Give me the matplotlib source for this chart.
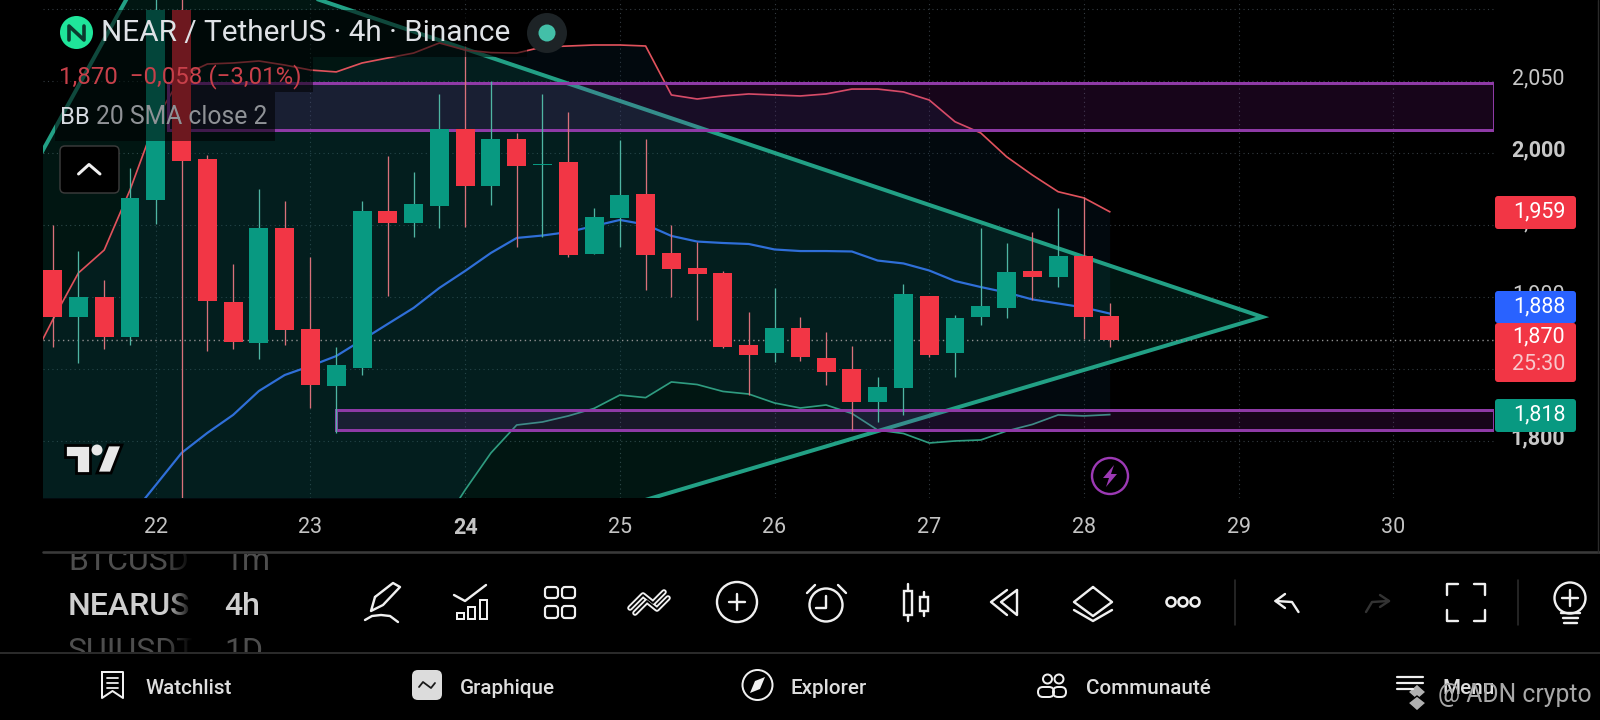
#!/usr/bin/env python3
"""NEAR / TetherUS 4h chart, phone screenshot with symmetric triangle"""

import numpy as np
import matplotlib
matplotlib.use('Agg')
import matplotlib.pyplot as plt
from matplotlib.patches import Circle, FancyBboxPatch, Polygon, Rectangle

plt.rcParams['font.family'] = ['Roboto', 'DejaVu Sans']

# candles, 4h each, first one at day 21 08:00
first_day = 21 + 1 / 3
opens = [1.9188, 1.8863, 1.9002, 1.8724, 1.9674, 2.0993, 1.9958, 1.8968, 1.8683, 1.9477,
         1.8778, 1.8382, 1.8509, 1.9600, 1.9516, 1.9634, 2.0164, 1.9773, 2.0095, 1.9920,
         1.9938, 1.9299, 1.9547, 1.9715, 1.9308, 1.9204, 1.9169, 1.8667, 1.8613, 1.8783,
         1.8574, 1.8498, 1.8273, 1.8366, 1.9007, 1.8613, 1.8863, 1.8926, 1.9181, 1.9141,
         1.9285, 1.8868]
closes = [1.8863, 1.9002, 1.8724, 1.9688, 2.0993, 1.9944, 1.8975, 1.8690, 1.9477, 1.8771,
          1.8389, 1.8528, 1.9597, 1.9516, 1.9644, 2.0164, 1.9773, 2.0095, 1.9912, 1.9925,
          1.9292, 1.9558, 1.9708, 1.9292, 1.9194, 1.9160, 1.8651, 1.8597, 1.8783, 1.8586,
          1.8481, 1.8273, 1.8373, 1.9019, 1.8597, 1.8852, 1.8938, 1.9176, 1.9139, 1.9285,
          1.8863, 1.8700]
highs = [1.9500, 1.9322, 1.9118, 1.9896, 2.1400, 2.1400, 1.9986, 1.9229, 1.9750, 1.9667,
         1.9280, 1.8653, 1.9667, 1.9979, 1.9870, 2.0410, 2.0743, 2.0500, 2.0141, 2.0410,
         2.0287, 1.9618, 2.0090, 2.0097, 1.9500, 1.9384, 1.9181, 1.8898, 1.9063, 1.8861,
         1.8759, 1.8660, 1.8447, 1.9090, 1.9007, 1.8875, 1.9481, 1.9375, 1.9451, 1.9618,
         1.9697, 1.8960]
lows = [1.8655, 1.8540, 1.8639, 1.8667, 1.9507, 1.7500, 1.8625, 1.8637, 1.8569, 1.8667,
        1.8227, 1.8058, 1.8458, 1.9007, 1.9419, 1.9479, 1.9488, 1.9639, 1.9349, 1.9419,
        1.9280, 1.9299, 1.9349, 1.9049, 1.9002, 1.8840, 1.8646, 1.8319, 1.8551, 1.8558,
        1.8389, 1.8076, 1.8134, 1.8181, 1.8581, 1.8447, 1.8806, 1.8854, 1.8979, 1.9069,
        1.8708, 1.8655]

# Bollinger bands, one point more than the candles because the lines enter from the left edge
# nan where the line is below the visible range
bb_upper = [1.8490, 1.8840, 1.9167, 1.9326, 1.9743, 2.0229, 2.0535, 2.0618, 2.0625, 2.0639, 2.0611,
            2.0576, 2.0563, 2.0625, 2.0660, 2.0694, 2.0764, 2.0715, 2.0697, 2.0694, 2.0736,
            2.0743, 2.0750, 2.0750, 2.0743, 2.0403, 2.0375, 2.0396, 2.0410, 2.0403, 2.0396,
            2.0410, 2.0444, 2.0444, 2.0424, 2.0368, 2.0217, 2.0139, 1.9974, 1.9847, 1.9731,
            1.9688, 1.9592]
bb_basis = [np.nan, np.nan, np.nan, np.nan, 1.7472, 1.7694, 1.7917, 1.8056, 1.8181, 1.8347, 1.8458,
            1.8521, 1.8590, 1.8701, 1.8813, 1.8924, 1.9063, 1.9181, 1.9306, 1.9410, 1.9427,
            1.9451, 1.9493, 1.9535, 1.9503, 1.9424, 1.9385, 1.9375, 1.9368, 1.9330, 1.9319,
            1.9319, 1.9316, 1.9253, 1.9233, 1.9184, 1.9111, 1.9069, 1.9031, 1.8983, 1.8955,
            1.8927, 1.8885]
bb_lower = [np.nan, np.nan, np.nan, np.nan, np.nan, np.nan, np.nan, np.nan, np.nan, np.nan, np.nan,
            np.nan, np.nan, np.nan, np.nan, np.nan, 1.7382, 1.7660, 1.7917, 1.8111, 1.8132,
            1.8174, 1.8226, 1.8319, 1.8301, 1.8410, 1.8392, 1.8344, 1.8326, 1.8264, 1.8229,
            1.8250, 1.8191, 1.8076, 1.8052, 1.7986, 1.8000, 1.8007, 1.8069, 1.8115, 1.8181,
            1.8174, 1.8183]

# drawings on the chart
triangle_days = [22.004, 29.155, 19.01]
triangle_prices = [2.1444, 1.8861, 1.5630]
zone_top = (22.08, 2.0160, 2.0485)
zone_bottom = (23.167, 1.8076, 1.8215)
zone_end = 30.651

day_ticks = [22, 23, 24, 25, 26, 27, 28, 29, 30]
price_grid = [1.80, 1.85, 1.90, 1.95, 2.00, 2.05, 2.10]
price_labels = {2.05: ('2,050', 'normal'), 2.00: ('2,000', 'bold'), 1.95: ('1,950', 'normal'),
                1.90: ('1,900', 'normal'), 1.80: ('1,800', 'bold')}
last_price = 1.870

UP = '#089981'
DOWN = '#f23645'
TEAL_LINE = '#22a085'
PURPLE = '#8e3aa6'
ICON = '#f0f0f0'

px = 0.72  # one pixel in points at dpi 100


def draw_chart(fig):
    ax = fig.add_axes([43 / 1600, 1 - 498 / 720, 1451 / 1600, 498 / 720], facecolor='black')
    ax.set_xlim(21.271, 30.651)
    ax.set_ylim(1.7604, 2.10625)
    for s in ax.spines.values():
        s.set_visible(False)

    ax.set_xticks(day_ticks)
    ax.set_xticklabels([str(d) for d in day_ticks], fontsize=15.5, color='#c4c4c4')
    ax.get_xticklabels()[2].set_fontweight('bold')
    ax.set_yticks(price_grid)
    ax.tick_params(length=0, labelleft=False, pad=13.5)
    ax.grid(True, color='#343b41', lw=0.8, ls=(0, (1, 3)))
    ax.set_axisbelow(True)

    days = first_day + np.arange(len(opens)) / 6
    bb_days = first_day + np.arange(-1, len(opens)) / 6

    # band fill goes only where both lines exist, below that it runs to the pane bottom
    low_fill = np.nan_to_num(np.array(bb_lower), nan=1.70)
    ax.fill_between(bb_days, low_fill, bb_upper, color='#0a2a40', alpha=0.22, lw=0, zorder=1)
    ax.add_patch(Polygon(np.column_stack([triangle_days, triangle_prices]), closed=True,
                         facecolor='#0c9a7c', alpha=0.15, lw=0, zorder=1.2))
    ax.add_patch(Polygon(np.column_stack([triangle_days, triangle_prices]), closed=True,
                         fill=False, edgecolor=TEAL_LINE, lw=4 * px, zorder=1.4))

    ax.plot(bb_days, bb_upper, color='#e0525c', lw=1.7 * px, zorder=2)
    ax.plot(bb_days, bb_basis, color='#2f6fd8', lw=2.2 * px, zorder=2)
    ax.plot(bb_days, bb_lower, color='#2f9c80', lw=1.7 * px, zorder=2)

    for start, low, high in (zone_top, zone_bottom):
        ax.add_patch(Rectangle((start, low), zone_end - start, high - low,
                               facecolor='#9c27b0', alpha=0.15, lw=0, zorder=2.2))
        ax.add_patch(Rectangle((start, low), zone_end - start, high - low,
                               fill=False, edgecolor=PURPLE, lw=3 * px, zorder=2.3))

    ax.axhline(last_price, color='#909090', lw=1.0, ls=(0, (1, 2.5)), zorder=2.4)

    o, c, h, l = map(np.array, (opens, closes, highs, lows))
    colors = [UP if b >= a else DOWN for a, b in zip(o, c)]
    wicks = ['#4fb5a3' if col == UP else '#d9717a' for col in colors]
    ax.vlines(days, l, h, colors=wicks, lw=1.3 * px, zorder=3)
    ax.bar(days, np.abs(c - o), bottom=np.minimum(o, c), width=19 / 155, color=colors,
           lw=0, zorder=3.1)

    # price scale text sits a little above its grid line
    for price, (label, weight) in price_labels.items():
        ax.annotate(label, xy=(1, price), xycoords=('axes fraction', 'data'),
                    xytext=(44 * px, 2.5 * px), textcoords='offset points', ha='center',
                    va='center', fontsize=15.5, color='#c8c8c8', fontweight=weight,
                    annotation_clip=False)


def line(ui, pts, color=ICON, lw=2.4, closed=False):
    pts = list(pts)
    if closed:
        pts.append(pts[0])
    xs, ys = zip(*pts)
    ui.plot(xs, ys, color=color, lw=lw * px, solid_capstyle='round', solid_joinstyle='round')


def circle(ui, x, y, r, color=ICON, lw=2.4, fill=False):
    ui.add_patch(Circle((x, y), r, fill=fill, facecolor=color, edgecolor=color, lw=lw * px))


def rbox(ui, x0, y0, x1, y1, rad=3, edge=ICON, face='none', lw=2.4):
    ui.add_patch(FancyBboxPatch((x0, y0), x1 - x0, y1 - y0,
                                boxstyle=f'round,pad=0,rounding_size={rad}',
                                facecolor=face, edgecolor=edge, lw=lw * px))


def draw_header(ui):
    for x0, y0, x1, y1 in [(55, 10, 527, 57), (55, 57, 313, 92), (55, 92, 275, 141)]:
        ui.add_patch(Rectangle((x0, y0), x1 - x0, y1 - y0, facecolor='black', alpha=0.55, lw=0))

    circle(ui, 76.5, 32.5, 16.5, color='#1fe59a', lw=0, fill=True)
    line(ui, [(69, 40), (69, 26), (84, 40), (84, 26)], color='#0b3a2e', lw=3.6)
    ui.text(101, 41, 'NEAR / TetherUS · 4h · Binance', fontsize=21.4, color='#dfe2e6', va='baseline')
    circle(ui, 547, 33, 20, color='#1d2326', lw=0, fill=True)
    circle(ui, 547, 33, 8.5, color='#43bfa8', lw=0, fill=True)

    ui.text(59, 83, '1,870  −0,058 (−3,01%)', fontsize=17.3, color='#c8404a', va='baseline')
    ui.text(60, 124, 'BB', fontsize=17, color='#d6dae0', va='baseline')
    ui.text(96, 124, '20 SMA close 2', fontsize=17.8, color='#8f9296', va='baseline')

    rbox(ui, 60, 146, 119, 193, rad=5, edge='#3a3a3a', face='black', lw=1.5)
    line(ui, [(78.5, 174), (89, 164.5), (100, 174)], lw=3)

    # TradingView mark with its dark shadow
    tv_t = [(65, 445), (90, 445), (90, 473), (76, 473), (76, 457), (65, 457)]
    tv_s = [(108, 445), (122, 445), (111, 473), (97, 473)]
    ui.add_patch(Polygon(tv_t, closed=True, facecolor='#e8e8e8', edgecolor='black', lw=2))
    ui.add_patch(Polygon(tv_s, closed=True, facecolor='#e8e8e8', edgecolor='black', lw=2))
    circle(ui, 97, 450, 5.5, color='#e8e8e8', lw=0, fill=True)

    # replay lightning button under the last candle
    circle(ui, 1110, 476, 18, color='#9c39b4', lw=2.4)
    ui.add_patch(Polygon([(1114, 465), (1103, 478), (1109, 478), (1106, 487), (1117, 474), (1111, 474)],
                         closed=True, facecolor='#9c39b4', lw=0))


def draw_tags(ui):
    tags = [(196, 229, DOWN, [('1,959', 212, 'white')]),
            (291, 323, '#2962ff', [('1,888', 307, 'white')]),
            (323, 382, DOWN, [('1,870', 337, 'white'), ('25:30', 364, '#f8c8cc')]),
            (399, 432, UP, [('1,818', 415, 'white')])]
    for y0, y1, col, rows in tags:
        rbox(ui, 1495, y0, 1576, y1, rad=3, edge=col, face=col, lw=0)
        for label, y, tc in rows:
            ui.text(1539, y, label, fontsize=15.5, color=tc, ha='center', va='center')


def draw_symbols(ui):
    clip = Rectangle((0, 554), 1600, 98, transform=ui.transData)
    rows = [('BTCUSD', '1m', 570, '#4e4e4e', 'normal'),
            ('NEARUS', '4h', 615, '#cfcfcf', 'medium'),
            ('SUIUSDT', '1D', 660, '#4e4e4e', 'normal')]
    for name, frame, y, col, weight in rows:
        name_clip = Rectangle((0, 554), 192, 98, transform=ui.transData)
        t = ui.text(68, y, name, fontsize=23, color=col, va='baseline', fontweight=weight)
        t.set_clip_path(name_clip)
        t.set_clip_on(True)
        t = ui.text(224, y, frame, fontsize=23, color=col, va='baseline', fontweight=weight)
        t.set_clip_path(clip)
        t.set_clip_on(True)
    fade = np.linspace(0, 1, 30).reshape(1, -1, 1)
    rgba = np.concatenate([np.zeros((1, 30, 3)), fade], axis=2)
    ui.imshow(rgba, extent=(165, 193, 652, 554), aspect='auto', zorder=5)
    ui.set_xlim(0, 1600)
    ui.set_ylim(720, 0)


def draw_toolbar(ui):
    # pencil
    line(ui, [(375, 597), (393, 583), (400, 587), (383, 605), (371, 611)], closed=True)
    line(ui, [(365, 620), (372, 616), (381, 615), (390, 616), (398, 622)])
    # indicators
    for x0, x1, y0 in [(457, 464, 613), (468, 475, 607), (480, 487, 600)]:
        ui.add_patch(Rectangle((x0, y0), x1 - x0, 619 - y0, fill=False, edgecolor=ICON, lw=2 * px))
    line(ui, [(454, 595), (465, 601), (486, 585)])
    # layouts
    for x0, x1 in [(545, 558), (562, 575)]:
        for y0, y1 in [(587, 598), (606, 618)]:
            rbox(ui, x0, y0, x1, y1, rad=3, lw=2.2)
    # drawings templates zigzag, white stroke with a black core
    for pts in ([(630, 608), (643, 595), (653, 603), (664, 592)],
                [(635, 613), (647, 601), (657, 609), (668, 598)]):
        line(ui, pts, lw=5.6)
    for pts in ([(630, 608), (643, 595), (653, 603), (664, 592)],
                [(635, 613), (647, 601), (657, 609), (668, 598)]):
        line(ui, pts, color='black', lw=1.8)
    # add
    circle(ui, 737, 602, 20)
    line(ui, [(729, 602), (745, 602)])
    line(ui, [(737, 594), (737, 610)])
    # alarm
    circle(ui, 826, 605, 16.5)
    line(ui, [(826, 596), (826, 608), (816, 608)])
    line(ui, [(807, 593), (815, 585)])
    line(ui, [(838, 585), (846, 593)])
    # candles
    ui.add_patch(Rectangle((904, 591), 8, 24, fill=False, edgecolor=ICON, lw=2.4 * px))
    line(ui, [(908, 584), (908, 591)])
    line(ui, [(908, 615), (908, 621)])
    ui.add_patch(Rectangle((920, 597), 8, 14, fill=False, edgecolor=ICON, lw=2.4 * px))
    line(ui, [(924, 592), (924, 597)])
    line(ui, [(924, 611), (924, 616)])
    # rewind
    line(ui, [(1007, 590), (991, 602), (1007, 615)])
    line(ui, [(1017, 590), (1001, 602), (1017, 615), (1017, 590)])
    # layers
    line(ui, [(1093, 587), (1112, 602), (1093, 616), (1074, 602)], closed=True)
    line(ui, [(1074, 610), (1093, 621), (1112, 610)])
    # more
    for x in (1171, 1183, 1195):
        circle(ui, x, 602, 4.5, lw=2.6)
    line(ui, [(1235, 580), (1235, 625)], color='#2c2c2c', lw=1.6)
    # undo, redo
    line(ui, [(1285, 594), (1275.5, 601), (1285, 608)])
    line(ui, [(1275.5, 601), (1292, 602), (1298.5, 612)])
    line(ui, [(1380, 595), (1389, 601), (1380, 607)], color='#333333')
    line(ui, [(1389, 601), (1372, 602), (1366, 612)], color='#333333')
    # fullscreen
    line(ui, [(1447, 595), (1447, 584), (1458, 584)])
    line(ui, [(1474, 584), (1485, 584), (1485, 595)])
    line(ui, [(1447, 610), (1447, 621), (1458, 621)])
    line(ui, [(1474, 621), (1485, 621), (1485, 610)])
    line(ui, [(1518, 580), (1518, 625)], color='#2c2c2c', lw=1.6)
    # bulb
    circle(ui, 1570, 598, 15.5)
    line(ui, [(1562, 598), (1578, 598)])
    line(ui, [(1570, 590), (1570, 606)])
    line(ui, [(1561, 613), (1580, 613)])
    line(ui, [(1563, 618), (1578, 618)])
    line(ui, [(1564, 623), (1577, 623)])


def draw_nav(ui):
    nav_font = 14.9
    nav_y = 693.5
    # watchlist
    line(ui, [(102, 672), (123, 672), (123, 698), (112.5, 691), (102, 698)], closed=True, lw=2)
    for y in (678, 683, 688):
        line(ui, [(107, y), (118, y)], lw=1.8)
    ui.text(145, nav_y, 'Watchlist', fontsize=nav_font, color='#dedede', va='baseline', fontweight='medium')
    # chart
    rbox(ui, 412, 670, 442, 700, rad=6, edge='#dcdcdc', face='#dcdcdc', lw=0)
    line(ui, [(419, 687), (423, 682), (431, 688), (435, 683)], color='#1a1a1a', lw=1.8)
    ui.text(460, nav_y, 'Graphique', fontsize=nav_font, color='#dedede', va='baseline', fontweight='medium')
    # compass
    circle(ui, 757.5, 685, 15, lw=2)
    ui.add_patch(Polygon([(765, 677), (760, 689), (750, 693), (755, 681)], closed=True,
                         facecolor=ICON, lw=0))
    ui.text(790, nav_y, 'Explorer', fontsize=nav_font, color='#dedede', va='baseline', fontweight='medium')
    # community
    circle(ui, 1047.5, 679, 4.5, lw=2)
    circle(ui, 1059, 679, 4.5, lw=2)
    rbox(ui, 1038, 687, 1054, 697, rad=5, lw=2)
    rbox(ui, 1053, 687, 1066, 697, rad=5, lw=2)
    ui.text(1086, nav_y, 'Communauté', fontsize=nav_font, color='#dedede', va='baseline', fontweight='medium')
    # menu, with the watermark printed across it
    for y, x1 in [(677, 1423), (683, 1423), (689, 1413)]:
        line(ui, [(1397, y), (x1, y)], lw=2.2)
    ui.text(1442, nav_y, 'Menu', fontsize=nav_font, color='#dedede', va='baseline', fontweight='medium')
    ui.add_patch(Polygon([(1417, 684), (1426, 692), (1417, 700), (1408, 692)], closed=True,
                         facecolor='#b0b0b0', edgecolor='black', lw=1))
    ui.add_patch(Polygon([(1417, 696), (1426, 703), (1417, 711), (1408, 703)], closed=True,
                         facecolor='#b0b0b0', edgecolor='black', lw=1))
    ui.text(1438, 702, '@ ADN crypto', fontsize=17.8, color='#a8a8a8', va='baseline')


def main():
    fig = plt.figure(figsize=(16, 7.2), dpi=100, facecolor='black')
    draw_chart(fig)

    # everything around the chart lives on a pixel canvas laid over it
    ui = fig.add_axes([0, 0, 1, 1], facecolor='none')
    ui.set_xlim(0, 1600)
    ui.set_ylim(720, 0)
    ui.axis('off')
    ui.set_aspect('auto')

    draw_header(ui)
    draw_tags(ui)
    draw_symbols(ui)
    draw_toolbar(ui)
    draw_nav(ui)

    line(ui, [(43, 552), (1600, 552)], color='#3a3a3a', lw=2.6)
    line(ui, [(0, 653), (1600, 653)], color='#2a2a2a', lw=2)
    line(ui, [(1598, 0), (1598, 552)], color='#2a2a2a', lw=1.4)

    fig.savefig('out.png', dpi=100, facecolor='black')


if __name__ == '__main__':
    main()
